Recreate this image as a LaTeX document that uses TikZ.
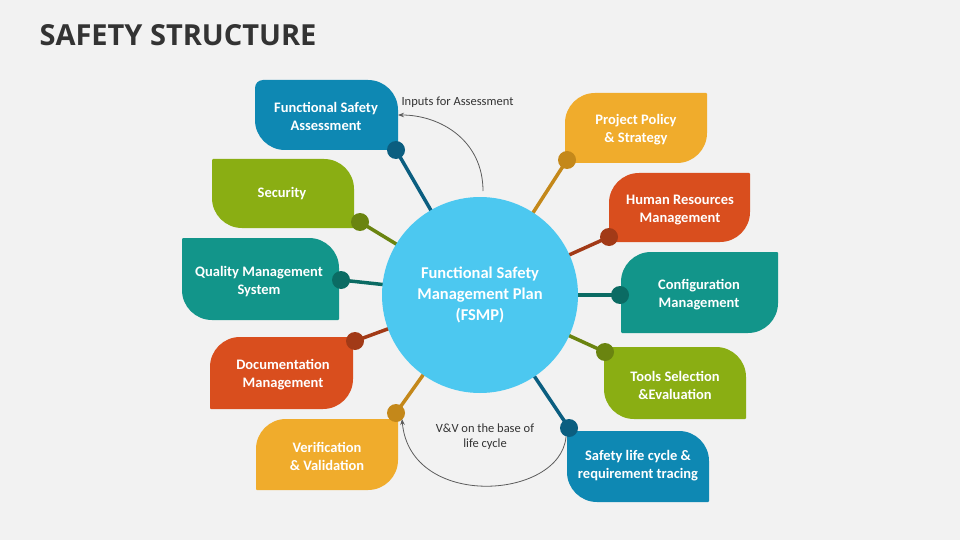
\documentclass[tikz,border=0pt]{standalone}
\usepackage{fontspec}
\setmainfont{Carlito}
\newfontfamily\titlefont{Open Sans}
\usetikzlibrary{arrows.meta}
\definecolor{bg}{HTML}{F2F2F2}
\definecolor{cblue}{HTML}{0E88B3}\definecolor{dblue}{HTML}{0B5E80}
\definecolor{cgreen}{HTML}{8AAE13}\definecolor{dgreen}{HTML}{6A8410}
\definecolor{cteal}{HTML}{12958A}\definecolor{dteal}{HTML}{0B6B63}
\definecolor{cred}{HTML}{D94E1E}\definecolor{dred}{HTML}{A23A17}
\definecolor{cyel}{HTML}{F0AC2C}\definecolor{dyel}{HTML}{C4881A}
\definecolor{ccirc}{HTML}{4CC8F0}
\definecolor{txt}{HTML}{333333}
\newcommand{\leaf}[9]{%
  \fill[#9] ({(#1+#3)/2},#2) [rounded corners=#6pt] -- (#3,#2) [rounded corners=#7pt] -- (#3,#4)
   [rounded corners=#8pt] -- (#1,#4) [rounded corners=#5pt] -- (#1,#2) -- cycle;}
\tikzset{btxt/.style={text=white,font=\bfseries\fontsize{14.5}{18}\selectfont,align=center},
  dot/.style={circle,inner sep=0pt,minimum size=18pt},
  link/.style={line width=3.5pt},
  note/.style={text=txt,font=\fontsize{12.5}{15}\selectfont,align=center},
  arr/.style={draw=txt!80,line width=0.8pt,-{Stealth[length=6pt]}}}
\begin{document}
\begin{tikzpicture}[x=1pt,y=-1pt]
\fill[bg] (0,0) rectangle (960,540);
\useasboundingbox (0,0) rectangle (960,540);
\node[anchor=west,text=txt,font=\titlefont\bfseries\fontsize{29}{34}\selectfont] (title) at (36,35) {SAFETY STRUCTURE};
\coordinate (c) at (480,295);
\foreach \n/\x/\y in {d1/396/150,d2/360/222,d3/341/280,d4/355/341,d5/396/413,d6/567/160,d7/609/237,d8/620/295,d9/605/352,d10/569/428}
  \coordinate (\n) at (\x,\y);
\draw[link,dblue] (c) -- (d1); \draw[link,dgreen] (c) -- (d2); \draw[link,dteal] (c) -- (d3);
\draw[link,dred] (c) -- (d4); \draw[link,dyel] (c) -- (d5); \draw[link,dyel] (c) -- (d6);
\draw[link,dred] (c) -- (d7); \draw[link,dteal] (c) -- (d8); \draw[link,dgreen] (c) -- (d9);
\draw[link,dblue] (c) -- (d10);
\leaf{255}{80}{398}{150}{8}{30}{1}{30}{cblue}
\leaf{212}{159}{354}{228}{1}{30}{1}{30}{cgreen}
\leaf{182}{238}{339}{320}{1}{30}{1}{30}{cteal}
\leaf{210}{337}{353}{409}{30}{1}{30}{1}{cred}
\leaf{256}{419}{398}{490}{30}{1}{30}{1}{cyel}
\leaf{565}{93}{707}{163}{30}{1}{30}{1}{cyel}
\leaf{609}{173}{750}{242}{30}{1}{30}{1}{cred}
\leaf{621}{252}{778}{333}{30}{1}{30}{1}{cteal}
\leaf{604}{347}{746}{419}{1}{30}{1}{30}{cgreen}
\leaf{567}{431}{709}{502}{1}{30}{1}{30}{cblue}
\node[btxt] (b1) at (326,116) {Functional Safety\\Assessment};
\node[btxt] (b2) at (282,194) {Security};
\node[btxt] (b3) at (259,282) {Quality Management\\System};
\node[btxt] (b4) at (283,375) {Documentation\\Management};
\node[btxt] (b5) at (327,456) {Verification\\\& Validation};
\node[btxt] (b6) at (636,130) {Project Policy\\\& Strategy};
\node[btxt] (b7) at (680,210) {Human Resources\\Management};
\node[btxt] (b8) at (699,295) {Configuration\\Management};
\node[btxt] (b9) at (675,385) {Tools Selection\\\&Evaluation};
\node[btxt] (b10) at (638,466) {Safety life cycle \&\\requirement tracing};
\node[circle,fill=ccirc,minimum size=196pt,inner sep=0pt,btxt,font=\bfseries\fontsize{16.5}{21}\selectfont] (fsmp) at (c) {Functional Safety\\Management Plan\\(FSMP)};
\foreach \n/\col in {d1/dblue,d2/dgreen,d3/dteal,d4/dred,d5/dyel,d6/dyel,d7/dred,d8/dteal,d9/dgreen,d10/dblue}
  \node[dot,fill=\col] (n\n) at (\n) {};
\coordinate (a1) at (483,191);
\coordinate (a2) at (398,115);
\draw[arr] (a1) .. controls (483,140) and (440,115) .. (a2);
\node[note,anchor=west] (l1) at (398,102) {Inputs for Assessment};
\coordinate (a3) at (566,437);
\coordinate (a4) at (402,419);
\draw[arr] (a3) .. controls (560,500) and (410,510) .. (a4);
\node[note] (l2) at (485,437) {V\&V on the base of\\life cycle};
\end{tikzpicture}
\end{document}
